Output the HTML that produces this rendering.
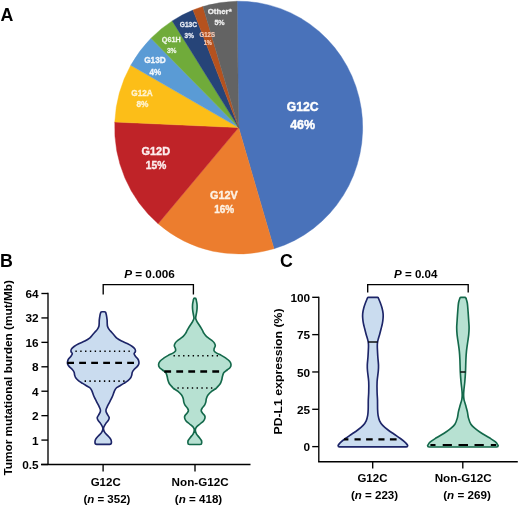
<!DOCTYPE html>
<html><head><meta charset="utf-8"><title>Figure</title>
<style>
html,body{margin:0;padding:0;background:#fff;}
body{width:520px;height:508px;overflow:hidden;}
svg{display:block;font-family:"Liberation Sans",sans-serif;}

</style></head><body>
<svg width="520" height="508" viewBox="0 0 520 508">
<rect width="520" height="508" fill="#fff"/>
<g>
<path d="M238.65,127.60 L237.09,1.21 A124.0,126.4 0 0 1 273.99,248.76 Z" fill="#4972ba" stroke="#4972ba" stroke-width="0.4"/>
<path d="M238.65,127.60 L273.99,248.76 A124.0,126.4 0 0 1 158.12,223.72 Z" fill="#ec7d2e" stroke="#ec7d2e" stroke-width="0.4"/>
<path d="M238.65,127.60 L158.12,223.72 A124.0,126.4 0 0 1 114.77,122.04 Z" fill="#bf2328" stroke="#bf2328" stroke-width="0.4"/>
<path d="M238.65,127.60 L114.77,122.04 A124.0,126.4 0 0 1 130.75,65.32 Z" fill="#fcbe18" stroke="#fcbe18" stroke-width="0.4"/>
<path d="M238.65,127.60 L130.75,65.32 A124.0,126.4 0 0 1 150.97,38.22 Z" fill="#5a9bd5" stroke="#5a9bd5" stroke-width="0.4"/>
<path d="M238.65,127.60 L150.97,38.22 A124.0,126.4 0 0 1 172.21,20.88 Z" fill="#70ab3a" stroke="#70ab3a" stroke-width="0.4"/>
<path d="M238.65,127.60 L172.21,20.88 A124.0,126.4 0 0 1 193.00,10.08 Z" fill="#264478" stroke="#264478" stroke-width="0.4"/>
<path d="M238.65,127.60 L193.00,10.08 A124.0,126.4 0 0 1 202.93,6.56 Z" fill="#b5521e" stroke="#b5521e" stroke-width="0.4"/>
<path d="M238.65,127.60 L202.93,6.56 A124.0,126.4 0 0 1 237.09,1.21 Z" fill="#636363" stroke="#636363" stroke-width="0.4"/>
</g>
<g class="pl">
<text x="302.6" y="111.2" font-size="13.7" textLength="31.7" lengthAdjust="spacingAndGlyphs" fill="#fff" stroke="#fff" stroke-width="0.48" text-anchor="middle" font-weight="bold">G12C</text>
<text x="302.6" y="128.7" font-size="13.7" textLength="24.9" lengthAdjust="spacingAndGlyphs" fill="#fff" stroke="#fff" stroke-width="0.48" text-anchor="middle" font-weight="bold">46%</text>
<text x="223.9" y="198.9" font-size="11.3" textLength="27.7" lengthAdjust="spacingAndGlyphs" fill="#fdf3e6" stroke="#fdf3e6" stroke-width="0.40" text-anchor="middle" font-weight="bold">G12V</text>
<text x="224.2" y="213.4" font-size="11.3" textLength="20.0" lengthAdjust="spacingAndGlyphs" fill="#fdf3e6" stroke="#fdf3e6" stroke-width="0.40" text-anchor="middle" font-weight="bold">16%</text>
<text x="155.8" y="154.6" font-size="11.3" textLength="28.5" lengthAdjust="spacingAndGlyphs" fill="#fdeeee" stroke="#fdeeee" stroke-width="0.40" text-anchor="middle" font-weight="bold">G12D</text>
<text x="156.0" y="169.2" font-size="11.3" textLength="20.4" lengthAdjust="spacingAndGlyphs" fill="#fdeeee" stroke="#fdeeee" stroke-width="0.40" text-anchor="middle" font-weight="bold">15%</text>
<text x="142.0" y="95.8" font-size="9.0" textLength="21.5" lengthAdjust="spacingAndGlyphs" fill="#fff3cf" stroke="#fff3cf" stroke-width="0.32" text-anchor="middle" font-weight="bold">G12A</text>
<text x="142.5" y="106.6" font-size="9.0" textLength="12.0" lengthAdjust="spacingAndGlyphs" fill="#fff3cf" stroke="#fff3cf" stroke-width="0.32" text-anchor="middle" font-weight="bold">8%</text>
<text x="155.0" y="63.1" font-size="9.0" textLength="21.6" lengthAdjust="spacingAndGlyphs" fill="#f2f7fc" stroke="#f2f7fc" stroke-width="0.32" text-anchor="middle" font-weight="bold">G13D</text>
<text x="155.4" y="74.6" font-size="9.0" textLength="11.6" lengthAdjust="spacingAndGlyphs" fill="#f2f7fc" stroke="#f2f7fc" stroke-width="0.32" text-anchor="middle" font-weight="bold">4%</text>
<text x="171.3" y="42.3" font-size="8.0" textLength="18.9" lengthAdjust="spacingAndGlyphs" fill="#eef6e6" stroke="#eef6e6" stroke-width="0.28" text-anchor="middle" font-weight="bold">Q61H</text>
<text x="171.7" y="52.9" font-size="8.0" textLength="9.6" lengthAdjust="spacingAndGlyphs" fill="#eef6e6" stroke="#eef6e6" stroke-width="0.28" text-anchor="middle" font-weight="bold">3%</text>
<text x="188.4" y="26.9" font-size="7.6" textLength="17.3" lengthAdjust="spacingAndGlyphs" fill="#e8ecf5" stroke="#e8ecf5" stroke-width="0.27" text-anchor="middle" font-weight="bold">G13C</text>
<text x="189.2" y="37.5" font-size="7.6" textLength="9.2" lengthAdjust="spacingAndGlyphs" fill="#e8ecf5" stroke="#e8ecf5" stroke-width="0.27" text-anchor="middle" font-weight="bold">3%</text>
<text x="207.3" y="36.5" font-size="6.8" textLength="15.4" lengthAdjust="spacingAndGlyphs" fill="#f6c9b3" stroke="#f6c9b3" stroke-width="0.24" text-anchor="middle" font-weight="bold">G12S</text>
<text x="207.8" y="44.6" font-size="6.8" textLength="8.1" lengthAdjust="spacingAndGlyphs" fill="#f6c9b3" stroke="#f6c9b3" stroke-width="0.24" text-anchor="middle" font-weight="bold">1%</text>
<text x="219.7" y="14.4" font-size="8.0" textLength="24.0" lengthAdjust="spacingAndGlyphs" fill="#f0f0f0" stroke="#f0f0f0" stroke-width="0.28" text-anchor="middle" font-weight="bold">Other*</text>
<text x="219.5" y="25.0" font-size="8.0" textLength="10.2" lengthAdjust="spacingAndGlyphs" fill="#f0f0f0" stroke="#f0f0f0" stroke-width="0.28" text-anchor="middle" font-weight="bold">5%</text>
</g>
<g>
<path d="M101.90,311.7 L104.50,311.7 Q105.80,311.7 105.80,313.00 C105.89,313.30 106.13,313.67 106.35,314.80 C106.57,315.93 106.96,318.48 107.10,319.80 C107.24,321.12 107.13,321.63 107.20,322.70 C107.27,323.77 107.22,325.13 107.50,326.20 C107.78,327.27 108.22,328.08 108.90,329.10 C109.58,330.12 110.72,331.28 111.60,332.30 C112.48,333.32 113.33,334.22 114.20,335.20 C115.07,336.18 115.58,337.22 116.80,338.20 C118.02,339.18 119.68,340.17 121.50,341.10 C123.32,342.03 125.90,342.90 127.70,343.80 C129.50,344.70 131.08,345.62 132.30,346.50 C133.52,347.38 134.48,348.27 135.00,349.10 C135.52,349.93 135.55,350.72 135.40,351.50 C135.25,352.28 134.10,353.02 134.10,353.80 C134.10,354.58 134.80,355.37 135.40,356.20 C136.00,357.03 137.12,357.87 137.70,358.80 C138.28,359.73 138.73,360.90 138.90,361.80 C139.07,362.70 139.03,363.35 138.70,364.20 C138.37,365.05 137.67,366.02 136.90,366.90 C136.13,367.78 134.87,368.62 134.10,369.50 C133.33,370.38 132.68,371.30 132.30,372.20 C131.92,373.10 132.07,373.98 131.80,374.90 C131.53,375.82 131.38,376.72 130.70,377.70 C130.02,378.68 128.85,379.85 127.70,380.80 C126.55,381.75 125.15,382.53 123.80,383.40 C122.45,384.27 120.85,385.23 119.60,386.00 C118.35,386.77 117.17,387.15 116.30,388.00 C115.43,388.85 115.02,389.77 114.40,391.10 C113.78,392.43 113.30,394.37 112.60,396.00 C111.90,397.63 111.02,399.28 110.20,400.90 C109.38,402.52 108.38,404.28 107.70,405.70 C107.02,407.12 106.37,408.38 106.10,409.40 C105.83,410.42 105.83,410.88 106.10,411.80 C106.37,412.72 107.18,413.92 107.70,414.90 C108.22,415.88 109.10,416.78 109.20,417.70 C109.30,418.62 108.85,419.45 108.30,420.40 C107.75,421.35 106.60,422.38 105.90,423.40 C105.20,424.42 104.50,425.55 104.10,426.50 C103.70,427.45 103.37,428.08 103.50,429.10 C103.63,430.12 104.10,431.42 104.90,432.60 C105.70,433.78 107.32,435.08 108.30,436.20 C109.28,437.32 110.28,438.38 110.80,439.30 C111.32,440.22 111.30,441.15 111.40,441.70 C111.50,442.25 111.40,442.45 111.40,442.60 Q111.40,444.4 109.60,444.4 L96.80,444.4 Q95.00,444.4 95.00,442.60 C95.00,442.45 94.90,442.25 95.00,441.70 C95.10,441.15 95.08,440.22 95.60,439.30 C96.12,438.38 97.12,437.32 98.10,436.20 C99.08,435.08 100.70,433.78 101.50,432.60 C102.30,431.42 102.77,430.12 102.90,429.10 C103.03,428.08 102.70,427.45 102.30,426.50 C101.90,425.55 101.20,424.42 100.50,423.40 C99.80,422.38 98.65,421.35 98.10,420.40 C97.55,419.45 97.10,418.62 97.20,417.70 C97.30,416.78 98.18,415.88 98.70,414.90 C99.22,413.92 100.03,412.72 100.30,411.80 C100.57,410.88 100.57,410.42 100.30,409.40 C100.03,408.38 99.38,407.12 98.70,405.70 C98.02,404.28 97.02,402.52 96.20,400.90 C95.38,399.28 94.50,397.63 93.80,396.00 C93.10,394.37 92.62,392.43 92.00,391.10 C91.38,389.77 90.97,388.85 90.10,388.00 C89.23,387.15 88.05,386.77 86.80,386.00 C85.55,385.23 83.95,384.27 82.60,383.40 C81.25,382.53 79.85,381.75 78.70,380.80 C77.55,379.85 76.38,378.68 75.70,377.70 C75.02,376.72 74.87,375.82 74.60,374.90 C74.33,373.98 74.48,373.10 74.10,372.20 C73.72,371.30 73.07,370.38 72.30,369.50 C71.53,368.62 70.27,367.78 69.50,366.90 C68.73,366.02 68.03,365.05 67.70,364.20 C67.37,363.35 67.33,362.70 67.50,361.80 C67.67,360.90 68.12,359.73 68.70,358.80 C69.28,357.87 70.40,357.03 71.00,356.20 C71.60,355.37 72.30,354.58 72.30,353.80 C72.30,353.02 71.15,352.28 71.00,351.50 C70.85,350.72 70.88,349.93 71.40,349.10 C71.92,348.27 72.88,347.38 74.10,346.50 C75.32,345.62 76.90,344.70 78.70,343.80 C80.50,342.90 83.08,342.03 84.90,341.10 C86.72,340.17 88.38,339.18 89.60,338.20 C90.82,337.22 91.33,336.18 92.20,335.20 C93.07,334.22 93.92,333.32 94.80,332.30 C95.68,331.28 96.82,330.12 97.50,329.10 C98.18,328.08 98.62,327.27 98.90,326.20 C99.18,325.13 99.13,323.77 99.20,322.70 C99.27,321.63 99.16,321.12 99.30,319.80 C99.44,318.48 99.83,315.93 100.05,314.80 C100.27,313.67 100.51,313.30 100.60,313.00 Q100.60,311.7 101.90,311.7 Z" fill="#cadcef" stroke="#1d2568" stroke-width="1.65" stroke-linejoin="round"/>
<path d="M194.80,298.1 L194.80,298.1 Q196.10,298.1 196.10,299.40 C196.15,299.65 196.24,300.00 196.40,300.90 C196.56,301.80 196.94,303.48 197.05,304.80 C197.16,306.12 197.13,307.48 197.05,308.80 C196.97,310.12 196.74,311.48 196.55,312.70 C196.36,313.92 196.04,315.12 195.90,316.10 C195.76,317.08 195.52,317.68 195.70,318.60 C195.88,319.52 196.42,320.53 197.00,321.60 C197.58,322.67 198.48,323.87 199.20,325.00 C199.92,326.13 200.72,327.42 201.30,328.40 C201.88,329.38 202.25,330.07 202.70,330.90 C203.15,331.73 203.38,332.50 204.00,333.40 C204.62,334.30 205.47,335.40 206.40,336.30 C207.33,337.20 208.58,338.02 209.60,338.80 C210.62,339.58 211.70,340.28 212.50,341.00 C213.30,341.72 213.93,342.30 214.40,343.10 C214.87,343.90 215.33,344.90 215.30,345.80 C215.27,346.70 214.40,347.67 214.20,348.50 C214.00,349.33 213.68,350.03 214.10,350.80 C214.52,351.57 215.50,352.33 216.70,353.10 C217.90,353.87 219.77,354.55 221.30,355.40 C222.83,356.25 224.52,357.23 225.90,358.20 C227.28,359.17 228.75,360.18 229.60,361.20 C230.45,362.22 230.90,363.27 231.00,364.30 C231.10,365.33 230.85,366.45 230.20,367.40 C229.55,368.35 228.15,369.13 227.10,370.00 C226.05,370.87 224.67,371.57 223.90,372.60 C223.13,373.63 222.87,374.97 222.50,376.20 C222.13,377.43 222.08,378.73 221.70,380.00 C221.32,381.27 220.90,382.65 220.20,383.80 C219.50,384.95 218.20,386.12 217.50,386.90 C216.80,387.68 216.93,387.80 216.00,388.50 C215.07,389.20 213.20,390.05 211.90,391.10 C210.60,392.15 209.12,393.58 208.20,394.80 C207.28,396.02 206.80,397.18 206.40,398.40 C206.00,399.62 206.10,400.98 205.80,402.10 C205.50,403.22 205.22,404.08 204.60,405.10 C203.98,406.12 202.67,407.28 202.10,408.20 C201.53,409.12 201.15,409.80 201.20,410.60 C201.25,411.40 201.83,412.18 202.40,413.00 C202.97,413.82 204.17,414.68 204.60,415.50 C205.03,416.32 205.18,416.98 205.00,417.90 C204.82,418.82 204.33,419.98 203.50,421.00 C202.67,422.02 201.17,422.98 200.00,424.00 C198.83,425.02 197.28,426.08 196.50,427.10 C195.72,428.12 195.32,428.98 195.30,430.10 C195.28,431.22 195.75,432.58 196.40,433.80 C197.05,435.02 198.37,436.28 199.20,437.40 C200.03,438.52 200.98,439.68 201.40,440.50 C201.82,441.32 201.65,441.90 201.70,442.30 C201.75,442.70 201.70,442.80 201.70,442.90 Q201.70,444.5 200.10,444.5 L189.50,444.5 Q187.90,444.5 187.90,442.90 C187.90,442.80 187.85,442.70 187.90,442.30 C187.95,441.90 187.78,441.32 188.20,440.50 C188.62,439.68 189.57,438.52 190.40,437.40 C191.23,436.28 192.55,435.02 193.20,433.80 C193.85,432.58 194.32,431.22 194.30,430.10 C194.28,428.98 193.88,428.12 193.10,427.10 C192.32,426.08 190.77,425.02 189.60,424.00 C188.43,422.98 186.93,422.02 186.10,421.00 C185.27,419.98 184.78,418.82 184.60,417.90 C184.42,416.98 184.57,416.32 185.00,415.50 C185.43,414.68 186.63,413.82 187.20,413.00 C187.77,412.18 188.35,411.40 188.40,410.60 C188.45,409.80 188.07,409.12 187.50,408.20 C186.93,407.28 185.62,406.12 185.00,405.10 C184.38,404.08 184.10,403.22 183.80,402.10 C183.50,400.98 183.60,399.62 183.20,398.40 C182.80,397.18 182.32,396.02 181.40,394.80 C180.48,393.58 179.00,392.15 177.70,391.10 C176.40,390.05 174.53,389.20 173.60,388.50 C172.67,387.80 172.80,387.68 172.10,386.90 C171.40,386.12 170.10,384.95 169.40,383.80 C168.70,382.65 168.28,381.27 167.90,380.00 C167.52,378.73 167.47,377.43 167.10,376.20 C166.73,374.97 166.47,373.63 165.70,372.60 C164.93,371.57 163.55,370.87 162.50,370.00 C161.45,369.13 160.05,368.35 159.40,367.40 C158.75,366.45 158.50,365.33 158.60,364.30 C158.70,363.27 159.15,362.22 160.00,361.20 C160.85,360.18 162.32,359.17 163.70,358.20 C165.08,357.23 166.77,356.25 168.30,355.40 C169.83,354.55 171.70,353.87 172.90,353.10 C174.10,352.33 175.08,351.57 175.50,350.80 C175.92,350.03 175.60,349.33 175.40,348.50 C175.20,347.67 174.33,346.70 174.30,345.80 C174.27,344.90 174.73,343.90 175.20,343.10 C175.67,342.30 176.30,341.72 177.10,341.00 C177.90,340.28 178.98,339.58 180.00,338.80 C181.02,338.02 182.27,337.20 183.20,336.30 C184.13,335.40 184.98,334.30 185.60,333.40 C186.22,332.50 186.45,331.73 186.90,330.90 C187.35,330.07 187.72,329.38 188.30,328.40 C188.88,327.42 189.68,326.13 190.40,325.00 C191.12,323.87 192.02,322.67 192.60,321.60 C193.18,320.53 193.72,319.52 193.90,318.60 C194.08,317.68 193.84,317.08 193.70,316.10 C193.56,315.12 193.24,313.92 193.05,312.70 C192.86,311.48 192.63,310.12 192.55,308.80 C192.47,307.48 192.44,306.12 192.55,304.80 C192.66,303.48 193.04,301.80 193.20,300.90 C193.36,300.00 193.45,299.65 193.50,299.40 Q193.50,298.1 194.80,298.1 Z" fill="#b7e1d2" stroke="#14694b" stroke-width="1.65" stroke-linejoin="round"/>
<path d="M368.20,297.4 L377.60,297.4 Q378.40,297.4 378.40,298.20 C378.72,298.97 379.68,301.13 380.30,302.80 C380.92,304.47 381.63,306.40 382.10,308.20 C382.57,310.00 382.93,311.97 383.10,313.60 C383.27,315.23 383.22,316.37 383.10,318.00 C382.98,319.63 382.73,321.60 382.40,323.40 C382.07,325.20 381.55,327.00 381.10,328.80 C380.65,330.60 380.15,332.58 379.70,334.20 C379.25,335.82 378.75,337.20 378.40,338.50 C378.05,339.80 377.78,340.73 377.60,342.00 C377.42,343.27 377.27,343.68 377.30,346.10 C377.33,348.52 377.60,353.35 377.80,356.50 C378.00,359.65 378.42,362.58 378.50,365.00 C378.58,367.42 378.53,368.22 378.30,371.00 C378.07,373.78 377.30,378.12 377.10,381.70 C376.90,385.28 377.03,389.45 377.10,392.50 C377.17,395.55 377.42,397.22 377.50,400.00 C377.58,402.78 377.50,406.63 377.60,409.20 C377.70,411.77 377.77,413.47 378.10,415.40 C378.43,417.33 378.83,419.13 379.60,420.80 C380.37,422.47 381.28,423.87 382.70,425.40 C384.12,426.93 386.18,428.53 388.10,430.00 C390.02,431.47 392.15,432.78 394.20,434.20 C396.25,435.62 398.48,437.07 400.40,438.50 C402.32,439.93 404.48,441.63 405.70,442.80 C406.92,443.97 407.37,445.05 407.70,445.50 Q407.70,446.9 406.30,446.9 L339.50,446.9 Q338.10,446.9 338.10,445.50 C338.43,445.05 338.88,443.97 340.10,442.80 C341.32,441.63 343.48,439.93 345.40,438.50 C347.32,437.07 349.55,435.62 351.60,434.20 C353.65,432.78 355.78,431.47 357.70,430.00 C359.62,428.53 361.68,426.93 363.10,425.40 C364.52,423.87 365.43,422.47 366.20,420.80 C366.97,419.13 367.37,417.33 367.70,415.40 C368.03,413.47 368.10,411.77 368.20,409.20 C368.30,406.63 368.22,402.78 368.30,400.00 C368.38,397.22 368.63,395.55 368.70,392.50 C368.77,389.45 368.90,385.28 368.70,381.70 C368.50,378.12 367.73,373.78 367.50,371.00 C367.27,368.22 367.22,367.42 367.30,365.00 C367.38,362.58 367.80,359.65 368.00,356.50 C368.20,353.35 368.47,348.52 368.50,346.10 C368.53,343.68 368.38,343.27 368.20,342.00 C368.02,340.73 367.75,339.80 367.40,338.50 C367.05,337.20 366.55,335.82 366.10,334.20 C365.65,332.58 365.15,330.60 364.70,328.80 C364.25,327.00 363.73,325.20 363.40,323.40 C363.07,321.60 362.82,319.63 362.70,318.00 C362.58,316.37 362.53,315.23 362.70,313.60 C362.87,311.97 363.23,310.00 363.70,308.20 C364.17,306.40 364.88,304.47 365.50,302.80 C366.12,301.13 367.08,298.97 367.40,298.20 Q367.40,297.4 368.20,297.4 Z" fill="#cadcef" stroke="#1d2568" stroke-width="1.65" stroke-linejoin="round"/>
<path d="M460.70,297.4 L465.10,297.4 Q465.90,297.4 465.90,298.20 C466.13,299.00 466.93,300.72 467.30,303.00 C467.67,305.28 467.87,308.93 468.10,311.90 C468.33,314.87 468.53,318.15 468.70,320.80 C468.87,323.45 469.10,325.45 469.10,327.80 C469.10,330.15 468.93,332.53 468.70,334.90 C468.47,337.27 468.07,339.33 467.70,342.00 C467.33,344.67 466.80,347.95 466.50,350.90 C466.20,353.85 466.07,356.20 465.90,359.70 C465.73,363.20 465.68,368.23 465.50,371.90 C465.32,375.57 465.07,378.68 464.80,381.70 C464.53,384.72 464.10,387.78 463.90,390.00 C463.70,392.22 463.58,393.40 463.60,395.00 C463.62,396.60 463.63,397.80 464.00,399.60 C464.37,401.40 465.23,403.75 465.80,405.80 C466.37,407.85 466.95,409.85 467.40,411.90 C467.85,413.95 467.92,416.05 468.50,418.10 C469.08,420.15 469.72,422.42 470.90,424.20 C472.08,425.98 473.80,427.30 475.60,428.80 C477.40,430.30 479.40,431.70 481.70,433.20 C484.00,434.70 487.10,436.35 489.40,437.80 C491.70,439.25 494.03,440.62 495.50,441.90 C496.97,443.18 497.75,444.90 498.20,445.50 Q498.20,447.0 496.70,447.0 L429.10,447.0 Q427.60,447.0 427.60,445.50 C428.05,444.90 428.83,443.18 430.30,441.90 C431.77,440.62 434.10,439.25 436.40,437.80 C438.70,436.35 441.80,434.70 444.10,433.20 C446.40,431.70 448.40,430.30 450.20,428.80 C452.00,427.30 453.72,425.98 454.90,424.20 C456.08,422.42 456.72,420.15 457.30,418.10 C457.88,416.05 457.95,413.95 458.40,411.90 C458.85,409.85 459.43,407.85 460.00,405.80 C460.57,403.75 461.43,401.40 461.80,399.60 C462.17,397.80 462.18,396.60 462.20,395.00 C462.22,393.40 462.10,392.22 461.90,390.00 C461.70,387.78 461.27,384.72 461.00,381.70 C460.73,378.68 460.48,375.57 460.30,371.90 C460.12,368.23 460.07,363.20 459.90,359.70 C459.73,356.20 459.60,353.85 459.30,350.90 C459.00,347.95 458.47,344.67 458.10,342.00 C457.73,339.33 457.33,337.27 457.10,334.90 C456.87,332.53 456.70,330.15 456.70,327.80 C456.70,325.45 456.93,323.45 457.10,320.80 C457.27,318.15 457.47,314.87 457.70,311.90 C457.93,308.93 458.13,305.28 458.50,303.00 C458.87,300.72 459.67,299.00 459.90,298.20 Q459.90,297.4 460.70,297.4 Z" fill="#b7e1d2" stroke="#14694b" stroke-width="1.65" stroke-linejoin="round"/>
<line x1="75.39999999999999" y1="351.2" x2="129.83" y2="351.2" stroke="#000" stroke-width="1.6" stroke-dasharray="1.4 3.42"/>
<line x1="67.2" y1="362.9" x2="138" y2="362.9" stroke="#000" stroke-width="2.3" stroke-dasharray="6.8 5.2" stroke-linecap="butt"/>
<line x1="84.6" y1="381.1" x2="124.57" y2="381.1" stroke="#000" stroke-width="1.6" stroke-dasharray="1.4 3.42"/>
<line x1="173.5" y1="355.7" x2="218.02" y2="355.7" stroke="#000" stroke-width="1.6" stroke-dasharray="1.4 3.39"/>
<line x1="164.3" y1="371.5" x2="224" y2="371.5" stroke="#000" stroke-width="2.3" stroke-dasharray="6.8 5.2" stroke-linecap="butt"/>
<line x1="177.4" y1="388.0" x2="212.34" y2="388.0" stroke="#000" stroke-width="1.6" stroke-dasharray="1.4 3.39"/>
<line x1="368.2" y1="342.0" x2="377.6" y2="342.0" stroke="#000" stroke-width="1.4"/>
<line x1="344.1" y1="439.3" x2="396.6" y2="439.3" stroke="#000" stroke-width="2.2" stroke-dasharray="4.3 6.1 6.2 5.4 6.6 5.7 6.1 5.4 6.7 50"/>
<line x1="460.3" y1="372" x2="465.5" y2="372" stroke="#000" stroke-width="1.4"/>
<line x1="430.4" y1="445" x2="496.2" y2="445" stroke="#000" stroke-width="2.2" stroke-dasharray="5.1 7.2 9.2 6.6 9.5 6.5 9.3 7 5.4 50"/>
</g>
<g>
<path d="M48.0,292.825 V464.5" stroke="#000" stroke-width="1.35" fill="none"/><line x1="41.4" y1="293.5" x2="48.0" y2="293.5" stroke="#000" stroke-width="1.35"/><text x="38.60" y="298.00" font-size="11.8" font-weight="bold" text-anchor="end">64</text><line x1="41.4" y1="317.93" x2="48.0" y2="317.93" stroke="#000" stroke-width="1.35"/><text x="38.60" y="322.43" font-size="11.8" font-weight="bold" text-anchor="end">32</text><line x1="41.4" y1="342.36" x2="48.0" y2="342.36" stroke="#000" stroke-width="1.35"/><text x="38.60" y="346.86" font-size="11.8" font-weight="bold" text-anchor="end">16</text><line x1="41.4" y1="366.78999999999996" x2="48.0" y2="366.78999999999996" stroke="#000" stroke-width="1.35"/><text x="38.60" y="371.29" font-size="11.8" font-weight="bold" text-anchor="end">8</text><line x1="41.4" y1="391.22" x2="48.0" y2="391.22" stroke="#000" stroke-width="1.35"/><text x="38.60" y="395.72" font-size="11.8" font-weight="bold" text-anchor="end">4</text><line x1="41.4" y1="415.65" x2="48.0" y2="415.65" stroke="#000" stroke-width="1.35"/><text x="38.60" y="420.15" font-size="11.8" font-weight="bold" text-anchor="end">2</text><line x1="41.4" y1="440.08" x2="48.0" y2="440.08" stroke="#000" stroke-width="1.35"/><text x="38.60" y="444.58" font-size="11.8" font-weight="bold" text-anchor="end">1</text><line x1="41.4" y1="464.51" x2="48.0" y2="464.51" stroke="#000" stroke-width="1.35"/><text x="38.60" y="469.01" font-size="11.8" font-weight="bold" text-anchor="end">0.5</text>
<line x1="41" y1="464.5" x2="250.5" y2="464.5" stroke="#000" stroke-width="1.35"/>
<line x1="103.1" y1="464.5" x2="103.1" y2="471.6" stroke="#000" stroke-width="1.35"/>
<line x1="195.0" y1="464.5" x2="195.0" y2="471.6" stroke="#000" stroke-width="1.35"/>
<path d="M318.8,296.625 V461.7" stroke="#000" stroke-width="1.35" fill="none"/><line x1="312.2" y1="297.3" x2="318.8" y2="297.3" stroke="#000" stroke-width="1.35"/><text x="310.10" y="302.10" font-size="11.8" font-weight="bold" text-anchor="end">100</text><line x1="312.2" y1="334.63" x2="318.8" y2="334.63" stroke="#000" stroke-width="1.35"/><text x="310.10" y="339.43" font-size="11.8" font-weight="bold" text-anchor="end">75</text><line x1="312.2" y1="371.96000000000004" x2="318.8" y2="371.96000000000004" stroke="#000" stroke-width="1.35"/><text x="310.10" y="376.76" font-size="11.8" font-weight="bold" text-anchor="end">50</text><line x1="312.2" y1="409.29" x2="318.8" y2="409.29" stroke="#000" stroke-width="1.35"/><text x="310.10" y="414.09" font-size="11.8" font-weight="bold" text-anchor="end">25</text><line x1="312.2" y1="446.62" x2="318.8" y2="446.62" stroke="#000" stroke-width="1.35"/><text x="310.10" y="451.42" font-size="11.8" font-weight="bold" text-anchor="end">0</text>
<line x1="318.1" y1="461.7" x2="517.8" y2="461.7" stroke="#000" stroke-width="1.35"/>
<line x1="372.7" y1="461.7" x2="372.7" y2="468.6" stroke="#000" stroke-width="1.35"/>
<line x1="462.8" y1="461.7" x2="462.8" y2="468.6" stroke="#000" stroke-width="1.35"/>
<path d="M103.2,294.6 V284.6 H193.4 V294.6" fill="none" stroke="#000" stroke-width="1.35"/>
<path d="M367.7,292.6 V284.6 H468.2 V292.6" fill="none" stroke="#000" stroke-width="1.35"/>
</g>
<g>
<text x="0.6" y="20.9" font-size="17.8" font-weight="bold">A</text>
<text x="-0.1" y="267.0" font-size="17.8" font-weight="bold">B</text>
<text x="280.1" y="267.4" font-size="17.8" font-weight="bold">C</text>
<text x="149.45" y="278.2" font-size="11.8" font-weight="bold" text-anchor="middle" textLength="50.6" lengthAdjust="spacingAndGlyphs"><tspan font-style="italic">P</tspan> = 0.006</text>
<text x="415.7" y="277.9" font-size="11.8" font-weight="bold" text-anchor="middle" textLength="43.4" lengthAdjust="spacingAndGlyphs"><tspan font-style="italic">P</tspan> = 0.04</text>
<text x="105.7" y="485.9" font-size="11.8" font-weight="bold" text-anchor="middle" textLength="30.0" lengthAdjust="spacingAndGlyphs">G12C</text>
<text x="106.9" y="503.0" font-size="11.8" font-weight="bold" text-anchor="middle" textLength="47.0" lengthAdjust="spacingAndGlyphs">(<tspan font-style="italic">n</tspan> = 352)</text>
<text x="200.1" y="485.9" font-size="11.8" font-weight="bold" text-anchor="middle" textLength="57.0" lengthAdjust="spacingAndGlyphs">Non-G12C</text>
<text x="198.5" y="503.0" font-size="11.8" font-weight="bold" text-anchor="middle" textLength="47.4" lengthAdjust="spacingAndGlyphs">(<tspan font-style="italic">n</tspan> = 418)</text>
<text x="372.45" y="482.0" font-size="11.8" font-weight="bold" text-anchor="middle" textLength="30.0" lengthAdjust="spacingAndGlyphs">G12C</text>
<text x="374.5" y="498.6" font-size="11.8" font-weight="bold" text-anchor="middle" textLength="47.2" lengthAdjust="spacingAndGlyphs">(<tspan font-style="italic">n</tspan> = 223)</text>
<text x="463.2" y="482.0" font-size="11.8" font-weight="bold" text-anchor="middle" textLength="57.0" lengthAdjust="spacingAndGlyphs">Non-G12C</text>
<text x="467.0" y="498.6" font-size="11.8" font-weight="bold" text-anchor="middle" textLength="47.6" lengthAdjust="spacingAndGlyphs">(<tspan font-style="italic">n</tspan> = 269)</text>
<text transform="translate(12.3,377.85) rotate(-90)" font-size="11.8" font-weight="bold" text-anchor="middle" textLength="195.5" lengthAdjust="spacingAndGlyphs">Tumor mutational burden (mut/Mb)</text>
<text transform="translate(281.9,371.5) rotate(-90)" font-size="11.8" font-weight="bold" text-anchor="middle" textLength="126" lengthAdjust="spacingAndGlyphs">PD-L1 expression (%)</text>
</g>
</svg>
</body></html>
